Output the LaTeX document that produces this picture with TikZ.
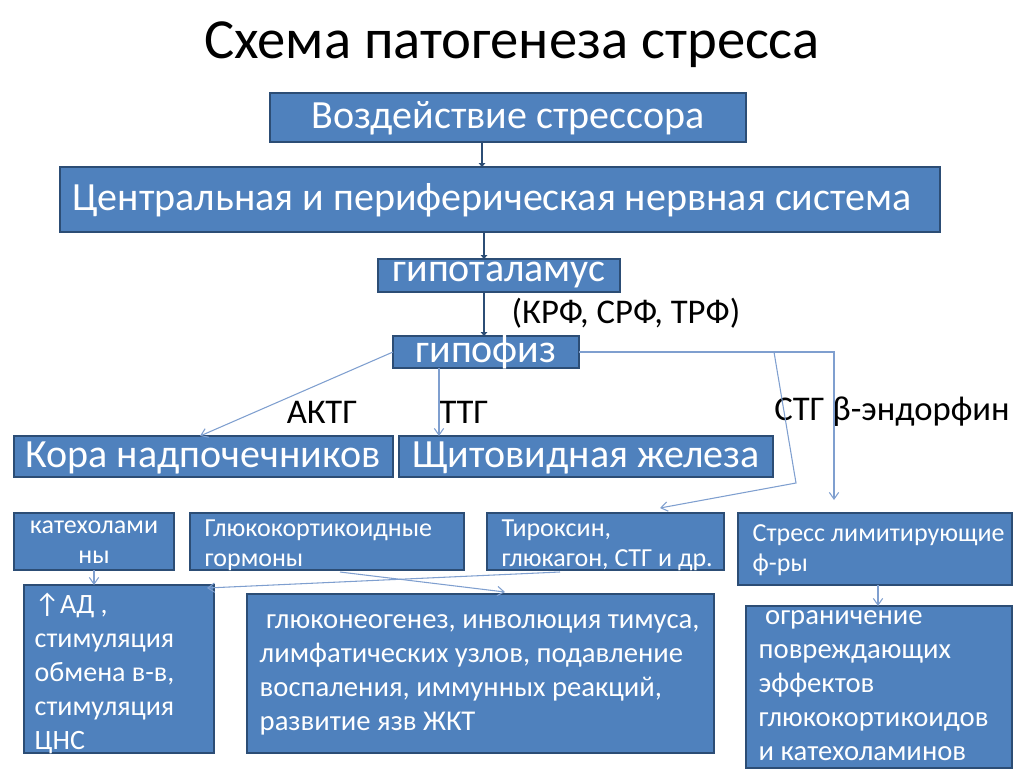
\documentclass[tikz,border=0pt]{standalone}
\usepackage{fontspec}
\setmainfont{Carlito}
\usetikzlibrary{arrows.meta}
\definecolor{bfill}{HTML}{4F81BD}
\definecolor{bdraw}{HTML}{2C4D75}
\definecolor{conn}{HTML}{7F9FCF}
\begin{document}
\begin{tikzpicture}[x=0.75pt,y=-0.75pt,
 bx/.style={draw=bdraw,line width=1.8pt,fill=bfill,text=white,inner sep=0pt},
 cn/.style={draw=conn,line width=0.8pt,-{Straight Barb[length=5pt,width=7pt]}},
 dk/.style={draw=bdraw,line width=2pt,-{Triangle[length=3pt,width=5pt]}},
 lb/.style={font=\fontsize{19.5}{22.5}\selectfont},
 big/.style={text=white,font=\fontsize{30}{34}\selectfont},
 lab/.style={font=\fontsize{26}{30}\selectfont}]
\useasboundingbox (0,0) rectangle (1024,768);
\node[font=\fontsize{42.5}{48}\selectfont] (t) at (512,45) {Схема патогенеза стресса};
\draw[bx] (270,93) rectangle (746,142); \node[big] (b1) at (508,118) {Воздействие стрессора};
\draw[bx] (60,167) rectangle (940,232); \node[big,anchor=west] (b2) at (68,200) {Центральная и периферическая нервная система};
\draw[bx] (378,259) rectangle (620,292); \node[big] (b3) at (499,275) {гипоталамус};
\draw[bx] (393,336) rectangle (579,368); \node[big] (b4) at (486,352) {гипофиз};
\node[lab] (rf) at (626,313) {(КРФ, СРФ, ТРФ)};
\node[lab] (a1) at (322,412) {АКТГ};
\node[lab] (a2) at (464,412) {ТТГ};
\node[lab] (a3) at (892,412) {СТГ β-эндорфин};
\draw[bx] (14,436) rectangle (393,477); \node[big] (b5) at (203,458) {Кора надпочечников};
\draw[bx] (399,436) rectangle (773,477); \node[big] (b6) at (586,458) {Щитовидная железа};
\draw[bx] (14,513) rectangle (174,570); \node[text=white,lb,align=center] (k1) at (94,542) {катехолами\\ны};
\draw[bx] (190,513) rectangle (464,570); \node[text=white,lb,align=left,anchor=north west] (k2) at (200,515) {Глюкокортикоидные\\гормоны};
\draw[bx] (487,513) rectangle (724,570); \node[text=white,lb,align=left,anchor=north west] (k3) at (497,515) {Тироксин,\\глюкагон, СТГ и др.};
\draw[bx] (738,513) rectangle (1012,585); \node[text=white,lb,align=left,anchor=north west] (k4) at (748,520) {Стресс лимитирующие\\ф-ры};
\draw[bx] (24,585) rectangle (214,753); \node[text=white,align=left,anchor=north west,font=\fontsize{21}{25.5}\selectfont] (l1) at (30,588) {↑АД ,\\стимуляция\\обмена в-в,\\стимуляция\\ЦНС};
\draw[bx] (247,594) rectangle (714,753); \node[text=white,align=left,anchor=north west,font=\fontsize{21.5}{25.5}\selectfont] (l2) at (255,610) {\ глюконеогенез, инволюция тимуса,\\лимфатических узлов, подавление\\воспаления, иммунных реакций,\\развитие язв ЖКТ};
\draw[bx] (746,606) rectangle (1012,768); \node[text=white,align=left,anchor=north west,font=\fontsize{21.5}{25.5}\selectfont] (l3) at (754,606) {\ ограничение\\повреждающих\\эффектов\\глюкокортикоидов\\и катехоламинов};
% connectors
\draw[dk] (482,142) -- (482,167);
\draw[dk] (484,232) -- (484,259);
\draw[dk] (484,292) -- (484,336);
\draw[cn] (393,352) -- (200,436);
\draw[cn] (439,368) -- (439,436);
\draw[cn] (579,352) -- (834,352) -- (834,500);
\draw[cn] (774,352) -- (796,483) -- (660,508);
\draw[cn] (94,570) -- (94,585);
\draw[cn] (560,572) -- (207,588);
\draw[cn] (340,572) -- (505,592);
\draw[cn] (878,585) -- (878,606);
\end{tikzpicture}
\end{document}
